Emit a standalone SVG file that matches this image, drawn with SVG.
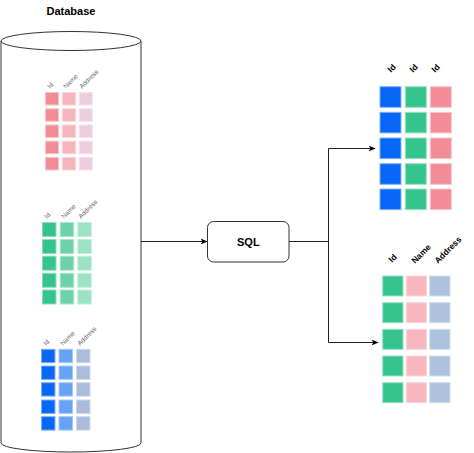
<svg xmlns="http://www.w3.org/2000/svg" width="474" height="453" viewBox="0 0 474 453">
<defs>
<style>
text{font-family:"Liberation Sans",Arial,sans-serif}
.t{font-size:11px;font-weight:bold;fill:#000}
.h{font-size:6.5px;fill:#666}
.hb{font-size:8.5px;font-weight:bold;fill:#000}
.ln{fill:none;stroke:#222;stroke-width:1}
.c{stroke-width:1}
</style>
<marker id="ah" viewBox="0 0 10 10" refX="9" refY="5" markerWidth="7" markerHeight="7" orient="auto" markerUnits="userSpaceOnUse"><path d="M0,1 L10,5 L0,9 L2.5,5 Z" fill="#000"/></marker>
</defs>
<rect width="474" height="453" fill="#fff"/>
<text class="t" x="71" y="15" text-anchor="middle">Database</text>
<g id="database">
<path d="M1,41 L1,443 A70,9 0 0 0 141,443 L141,41" fill="#fff" stroke="#333" stroke-width="1"/>
<ellipse cx="71" cy="41" rx="70" ry="9.5" fill="#fff" stroke="#333" stroke-width="1"/>
</g>
<g id="table-pink">
<g fill="#F28D98" stroke="#F7C2C8" class="c">
<rect x="45.5" y="92.5" width="13" height="12.5"/><rect x="45.5" y="108.8" width="13" height="12.5"/><rect x="45.5" y="125" width="13" height="12.5"/><rect x="45.5" y="141.2" width="13" height="12.5"/><rect x="45.5" y="157.5" width="13" height="12.5"/>
</g>
<g fill="#F7B4BC" stroke="#FAD3D8" class="c">
<rect x="62.5" y="92.5" width="13" height="12.5"/><rect x="62.5" y="108.8" width="13" height="12.5"/><rect x="62.5" y="125" width="13" height="12.5"/><rect x="62.5" y="141.2" width="13" height="12.5"/><rect x="62.5" y="157.5" width="13" height="12.5"/>
</g>
<g fill="#EDCDE0" stroke="#F4E0EC" class="c">
<rect x="79.3" y="92.5" width="13" height="12.5"/><rect x="79.3" y="108.8" width="13" height="12.5"/><rect x="79.3" y="125" width="13" height="12.5"/><rect x="79.3" y="141.2" width="13" height="12.5"/><rect x="79.3" y="157.5" width="13" height="12.5"/>
</g>
<text class="h" x="50" y="89" transform="rotate(-45 50 89)">Id</text>
<text class="h" x="66" y="89" transform="rotate(-45 66 89)">Name</text>
<text class="h" x="82" y="89" transform="rotate(-45 82 89)">Address</text>
</g>
<g id="table-green">
<g fill="#36C48E" stroke="#8EDCBC" class="c">
<rect x="42.5" y="222.5" width="13.5" height="14"/><rect x="42.5" y="239.5" width="13.5" height="14"/><rect x="42.5" y="256.2" width="13.5" height="14"/><rect x="42.5" y="273.3" width="13.5" height="14"/><rect x="42.5" y="290" width="13.5" height="14"/>
</g>
<g fill="#6DD2AA" stroke="#A9E5CE" class="c">
<rect x="60.2" y="222.5" width="13.5" height="14"/><rect x="60.2" y="239.5" width="13.5" height="14"/><rect x="60.2" y="256.2" width="13.5" height="14"/><rect x="60.2" y="273.3" width="13.5" height="14"/><rect x="60.2" y="290" width="13.5" height="14"/>
</g>
<g fill="#9DE2C5" stroke="#C4EEDC" class="c">
<rect x="77.8" y="222.5" width="13.5" height="14"/><rect x="77.8" y="239.5" width="13.5" height="14"/><rect x="77.8" y="256.2" width="13.5" height="14"/><rect x="77.8" y="273.3" width="13.5" height="14"/><rect x="77.8" y="290" width="13.5" height="14"/>
</g>
<text class="h" x="47" y="219" transform="rotate(-45 47 219)">Id</text>
<text class="h" x="64" y="219" transform="rotate(-45 64 219)">Name</text>
<text class="h" x="81" y="219" transform="rotate(-45 81 219)">Address</text>
</g>
<g id="table-blue">
<g fill="#0767F7" stroke="#7FAFF8" class="c">
<rect x="41.5" y="349.3" width="13.5" height="13.4"/><rect x="41.5" y="366" width="13.5" height="13.4"/><rect x="41.5" y="382.7" width="13.5" height="13.4"/><rect x="41.5" y="400" width="13.5" height="13.4"/><rect x="41.5" y="416.7" width="13.5" height="13.4"/>
</g>
<g fill="#68A2F8" stroke="#A9C8F8" class="c">
<rect x="59" y="349.3" width="13.5" height="13.4"/><rect x="59" y="366" width="13.5" height="13.4"/><rect x="59" y="382.7" width="13.5" height="13.4"/><rect x="59" y="400" width="13.5" height="13.4"/><rect x="59" y="416.7" width="13.5" height="13.4"/>
</g>
<g fill="#A9BDDA" stroke="#CCD8EA" class="c">
<rect x="76.5" y="349.3" width="13.5" height="13.4"/><rect x="76.5" y="366" width="13.5" height="13.4"/><rect x="76.5" y="382.7" width="13.5" height="13.4"/><rect x="76.5" y="400" width="13.5" height="13.4"/><rect x="76.5" y="416.7" width="13.5" height="13.4"/>
</g>
<text class="h" x="46" y="346" transform="rotate(-45 46 346)">Id</text>
<text class="h" x="63" y="346" transform="rotate(-45 63 346)">Name</text>
<text class="h" x="80" y="346" transform="rotate(-45 80 346)">Address</text>
</g>
<g id="sql">
<rect x="207.5" y="221.5" width="81.5" height="40.5" rx="6" fill="#fff" stroke="#333" stroke-width="1"/>
<text class="t" x="248.3" y="245.5" text-anchor="middle">SQL</text>
</g>
<g id="result-ids">
<g fill="#0767F7" stroke="#7FB0F8" class="c">
<rect x="380" y="86.7" width="21" height="20.6"/><rect x="380" y="112.3" width="21" height="20.6"/><rect x="380" y="138" width="21" height="20.6"/><rect x="380" y="163.7" width="21" height="20.6"/><rect x="380" y="189" width="21" height="20.6"/>
</g>
<g fill="#36C48E" stroke="#9ADFC2" class="c">
<rect x="405.3" y="86.7" width="21" height="20.6"/><rect x="405.3" y="112.3" width="21" height="20.6"/><rect x="405.3" y="138" width="21" height="20.6"/><rect x="405.3" y="163.7" width="21" height="20.6"/><rect x="405.3" y="189" width="21" height="20.6"/>
</g>
<g fill="#F28D98" stroke="#F8C6CB" class="c">
<rect x="430.3" y="86.7" width="21" height="20.6"/><rect x="430.3" y="112.3" width="21" height="20.6"/><rect x="430.3" y="138" width="21" height="20.6"/><rect x="430.3" y="163.7" width="21" height="20.6"/><rect x="430.3" y="189" width="21" height="20.6"/>
</g>
<text class="hb" x="391" y="73" transform="rotate(-45 391 73)">Id</text>
<text class="hb" x="413" y="73" transform="rotate(-45 413 73)">Id</text>
<text class="hb" x="435" y="73" transform="rotate(-45 435 73)">Id</text>
</g>
<g id="result-full">
<g fill="#36C48E" stroke="#9ADFC2" class="c">
<rect x="382.7" y="276" width="20.3" height="20"/><rect x="382.7" y="302.7" width="20.3" height="20"/><rect x="382.7" y="329.3" width="20.3" height="20"/><rect x="382.7" y="356" width="20.3" height="20"/><rect x="382.7" y="382.7" width="20.3" height="20"/>
</g>
<g fill="#F8B7BF" stroke="#FBD6DA" class="c">
<rect x="406.3" y="276" width="20.3" height="20"/><rect x="406.3" y="302.7" width="20.3" height="20"/><rect x="406.3" y="329.3" width="20.3" height="20"/><rect x="406.3" y="356" width="20.3" height="20"/><rect x="406.3" y="382.7" width="20.3" height="20"/>
</g>
<g fill="#ADC2DE" stroke="#D2DDEC" class="c">
<rect x="429.7" y="276" width="20.3" height="20"/><rect x="429.7" y="302.7" width="20.3" height="20"/><rect x="429.7" y="329.3" width="20.3" height="20"/><rect x="429.7" y="356" width="20.3" height="20"/><rect x="429.7" y="382.7" width="20.3" height="20"/>
</g>
<text class="hb" x="392" y="263" transform="rotate(-45 392 263)">Id</text>
<text class="hb" x="415" y="264" transform="rotate(-45 415 264)">Name</text>
<text class="hb" x="438" y="264" transform="rotate(-45 438 264)">Address</text>
</g>
<g id="connectors">
<path class="ln" d="M141,241.5 L207,241.5" marker-end="url(#ah)"/>
<path class="ln" d="M289,241.5 L328.5,241.5"/>
<path class="ln" d="M328.5,148.5 L328.5,342.5"/>
<path class="ln" d="M328.5,148.5 L375,148.5" marker-end="url(#ah)"/>
<path class="ln" d="M328.5,342.5 L378,342.5" marker-end="url(#ah)"/>
</g>
</svg>
